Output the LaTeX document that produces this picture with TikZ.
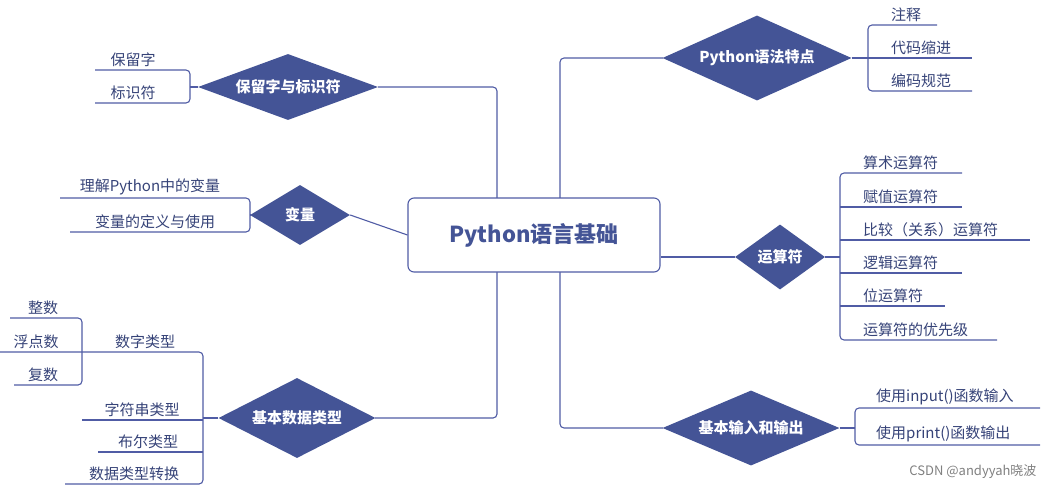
\documentclass[tikz,border=0pt]{standalone}
\usepackage{fontspec}
\setmainfont{Noto Sans CJK SC}
\usetikzlibrary{shapes.geometric}
\definecolor{deepblue}{RGB}{68,84,150}
\definecolor{lineblue}{RGB}{80,92,165}
\tikzset{
  topic/.style={diamond,fill=deepblue,text=white,font=\fontsize{15}{17}\selectfont\bfseries,inner sep=0pt,aspect=2.2},
  leaf/.style={text=deepblue!80!black,font=\fontsize{15}{17}\selectfont,inner sep=1pt},
  wire/.style={draw=lineblue,line width=1.1pt,rounded corners=4pt}}
\begin{document}
\begin{tikzpicture}[x=1pt,y=-1pt]
\useasboundingbox (0,0) rectangle (1051,493);

% trunk lines behind the centre box
\draw [wire] (378,87) -- (497,87) -- (497,418) -- (375,418);
\draw [wire] (663,58) -- (560,58) -- (560,428) -- (663,428);

% centre
\node [draw=lineblue,line width=1.1pt,fill=white,rounded corners=6pt,minimum width=252pt,minimum height=74pt,text=deepblue,font=\fontsize{22}{24}\selectfont\bfseries] (root) at (534,235) {Python语言基础};

% topics
\node [topic,minimum width=180pt,minimum height=66pt] (kw) at (288,87) {保留字与标识符};
\node [topic,minimum width=100pt,minimum height=60pt] (var) at (300,215) {变量};
\node [topic,minimum width=157pt,minimum height=80pt] (dtype) at (297,418) {基本数据类型};
\node [topic,minimum width=189pt,minimum height=85pt] (syn) at (757,58) {Python语法特点};
\node [topic,minimum width=90pt,minimum height=65pt] (op) at (780,257) {运算符};
\node [topic,minimum width=177pt,minimum height=75pt] (io) at (751,428) {基本输入和输出};

\draw [wire] (var.east) -- (root.west);
\draw [wire] (op.west) -- (op.west -| root.east);

% 保留字与标识符
\node [leaf,anchor=south] (kw1) at (133,68) {保留字};
\node [leaf,anchor=south] (kw2) at (133,101) {标识符};
\draw [wire] (95,70) -- (190,70) -- (190,103) -- (95,103);
\draw [wire] (kw.west) -- (190,87);

% 变量
\node [leaf,anchor=south] (var1) at (150,196) {理解Python中的变量};
\node [leaf,anchor=south] (var2) at (155,230) {变量的定义与使用};
\draw [wire] (60,198) -- (250,198) -- (250,232) -- (70,232);
\draw [wire] (var.west) -- (250,215);

% 基本数据类型
\node [leaf,anchor=south] (dt1) at (145,350) {数字类型};
\node [leaf,anchor=south] (dt2) at (142,418) {字符串类型};
\node [leaf,anchor=south] (dt3) at (148,450) {布尔类型};
\node [leaf,anchor=south] (dt4) at (134,482) {数据类型转换};
\draw [wire] (0,352) -- (203,352) -- (203,484) -- (65,484);
\draw [wire] (82,420) -- (203,420);
\draw [wire] (98,452) -- (203,452);
\draw [wire] (dtype.west) -- (203,418);
\node [leaf,anchor=south] (n1) at (43,316) {整数};
\node [leaf,anchor=south] (n2) at (36,350) {浮点数};
\node [leaf,anchor=south] (n3) at (43,383) {复数};
\draw [wire] (10,318) -- (82,318) -- (82,385) -- (14,385);

% Python语法特点
\node [leaf,anchor=south west] (syn1) at (890,23) {注释};
\node [leaf,anchor=south west] (syn2) at (890,56) {代码缩进};
\node [leaf,anchor=south west] (syn3) at (890,89) {编码规范};
\draw [wire] (937,25) -- (868,25) -- (868,91) -- (972,91);
\draw [wire] (868,58) -- (972,58);
\draw [wire] (syn.east) -- (868,58);

% 运算符
\node [leaf,anchor=south west] (op1) at (862,171) {算术运算符};
\node [leaf,anchor=south west] (op2) at (862,205) {赋值运算符};
\node [leaf,anchor=south west] (op3) at (862,238) {比较（关系）运算符};
\node [leaf,anchor=south west] (op4) at (862,271) {逻辑运算符};
\node [leaf,anchor=south west] (op5) at (862,304) {位运算符};
\node [leaf,anchor=south west] (op6) at (862,338) {运算符的优先级};
\draw [wire] (962,173) -- (840,173) -- (840,340) -- (997,340);
\foreach \y/\e in {207/962,240/1030,273/962,306/945}
  \draw [wire] (840,\y) -- (\e,\y);
\draw [wire] (op.east) -- (840,257);

% 基本输入和输出
\node [leaf,anchor=south west] (io1) at (875,406) {使用input()函数输入};
\node [leaf,anchor=south west] (io2) at (875,443) {使用print()函数输出};
\draw [wire] (1040,408) -- (855,408) -- (855,445) -- (1040,445);
\draw [wire] (io.east) -- (855,428);

\node [text=gray,font=\fontsize{13}{15}\selectfont,anchor=east] (mark) at (1040,472) {CSDN @andyyah晓波};
\end{tikzpicture}
\end{document}
